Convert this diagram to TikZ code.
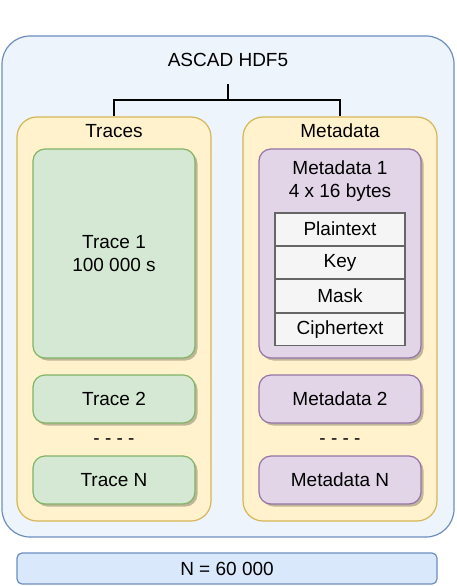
\documentclass[tikz,border=0pt]{standalone}
\usepackage{fontspec}
\setmainfont{Liberation Sans}
\usetikzlibrary{positioning}
\usetikzlibrary{shadows}

\definecolor{outerfill}{HTML}{EEF4FC}
\definecolor{outerline}{HTML}{6C8EBF}
\definecolor{yelfill}{HTML}{FFF2CC}
\definecolor{yelline}{HTML}{D6B656}
\definecolor{grnfill}{HTML}{D5E8D4}
\definecolor{grnline}{HTML}{82B366}
\definecolor{purfill}{HTML}{E1D5E7}
\definecolor{purline}{HTML}{9673A6}
\definecolor{cellfill}{HTML}{F5F5F5}
\definecolor{cellline}{HTML}{666666}
\definecolor{nfill}{HTML}{DAE8FC}

\begin{document}
\begin{tikzpicture}[x=1pt,y=-1pt,line width=1.2pt,
    font=\fontsize{19}{23}\selectfont,
    box/.style={draw,rectangle,inner sep=0pt,align=center},
    shade box/.style={box,drop shadow={shadow xshift=2.5pt,shadow yshift=-2.5pt,fill=black,opacity=0.25}},
    trace/.style={shade box,fill=grnfill,draw=grnline,rounded corners=12pt,minimum width=162pt},
    meta/.style={shade box,fill=purfill,draw=purline,rounded corners=12pt,minimum width=162pt},
    group/.style={box,fill=yelfill,draw=yelline,rounded corners=20pt,minimum width=194pt,minimum height=404pt},
    cell/.style={box,fill=cellfill,draw=cellline,minimum width=130pt,minimum height=32.25pt}]

            \useasboundingbox (0,0) rectangle (456,586);
            % \draw [help lines,step=50] (0,0) grid (456,586);

            \path   (228,286.5) node (hdf) [box,fill=outerfill,draw=outerline,rounded corners=28pt,
                                            minimum width=452pt,minimum height=501pt] {}
                    (228,60) node (hdftitle) {ASCAD HDF5}

                    (114,319) node (traces) [group] {}
                    (340,319) node (metas) [group] {}
                    (114,131) node (tracestitle) {Traces}
                    (340,131) node (metastitle) {Metadata}

                    (114,253.5) node (t1) [trace,minimum height=209pt] {Trace 1\\100 000 s}
                    (114,399) node (t2) [trace,minimum height=48pt] {Trace 2}
                    (114,442) node (tdots) {- - - -}
                    (114,480) node (tn) [trace,minimum height=48pt] {Trace N}

                    (340,253.5) node (m1) [meta,minimum height=209pt] {}
                    (340,181.5) node (m1title) [align=center] {Metadata 1\\4 x 16 bytes}
                    (340,399) node (m2) [meta,minimum height=48pt] {Metadata 2}
                    (340,442) node (mdots) {- - - -}
                    (340,480) node (mn) [meta,minimum height=48pt] {Metadata N}

                    (227,568.5) node (count) [box,fill=nfill,draw=outerline,rounded corners=5pt,
                                              minimum width=420pt,minimum height=31pt] {N = 60 000};

            \node (plain) [cell] at (340,229.1) {Plaintext};
            \node (key) [cell,below=0pt of plain] {Key};
            \node (mask) [cell,below=0pt of key] {Mask};
            \node (cipher) [cell,below=0pt of mask] {Ciphertext};

            \coordinate (stem) at (228,84);
            \coordinate (fork) at (228,100);
            \draw (stem) -- (fork) -| (traces.north);
            \draw (fork) -| (metas.north);
        \end{tikzpicture}
\end{document}
